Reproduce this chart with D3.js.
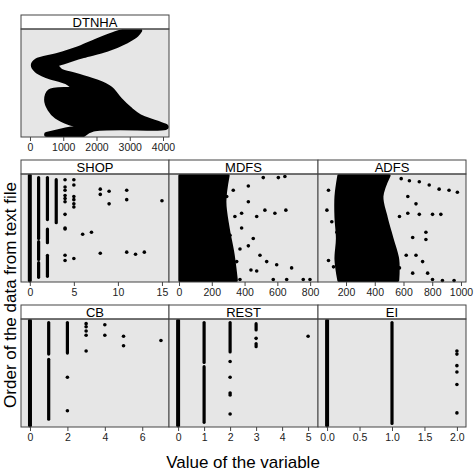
<!DOCTYPE html><html><head><meta charset="utf-8"><script src="https://cdn.jsdelivr.net/npm/d3@7"></script>
<style>body{margin:0;background:#fff}</style></head><body><svg id="c" width="474" height="474"></svg>
<script>
// order = position in file, 0 (top) .. 100 (bottom), in percent of records
const dtnhaEdge = [ // [order, left, right]
 [0,2900,3300],[4,2500,3200],[10,2000,2900],[18,1400,2300],[24,800,1600],[29,200,1100],[33,100,800],[38,200,900],[43,500,1400],[49,1100,2000],[55,1300,2400],[58,600,2500],[66,500,2700],[75,600,3000],[82,800,3300],[88,1200,3800],[92,1700,4100],[94,1200,1900],[99,500,1600]];
const mdfsCore = [[0,5,300],[25,5,280],[50,5,300],[75,5,330],[100,5,350]];
const mdfsPts = [[423,10],[514,2],[606,2],[646,1],[423,25],[382,36],[474,39],[524,33],[585,36],[652,33],[341,39],[453,60],[423,67],[372,70],[494,76],[535,82],[596,85],[687,88],[352,82],[439,90],[474,91],[575,99],[657,99],[758,99],[799,99],[372,99],[311,57],[291,20],[331,14],[382,50]];
const adfsCore = [[0,150,500],[20,130,450],[40,130,480],[60,140,520],[80,130,560],[100,150,560]];
const adfsPts = [[78,14],[67,33],[101,44],[136,54],[78,81],[113,87],[584,3],[641,5],[710,6],[779,9],[848,13],[917,14],[975,16],[572,39],[630,36],[710,37],[802,37],[860,37],[664,59],[756,54],[756,61],[619,76],[687,76],[733,82],[572,88],[664,93],[768,93],[802,99],[871,100],[952,100],[630,20],[687,27]];
// runs: [value, fromOrder, toOrder]; pts: [value, order]
const shopRuns = [[0,0,100],[1,2,60],[1,63,80],[1,83,97],[2,2,42],[2,51,64],[2,76,96],[3,4,45]];
const shopPts = [[4,4],[4,11],[4,14],[4,19],[4,22],[4,25],[4,37],[4,50],[4,51],[4,76],[4,81],[5,4],[5,9],[5,20],[5,23],[5,27],[5,30],[5,79],[6,56],[7,54],[8,13],[8,18],[8,74],[9,15],[9,27],[11,14],[11,23],[11,73],[12,75],[13,73],[15,24]];
const cbRuns = [[0,0,100],[1,2,32],[1,37,94],[2,2,31]];
const cbPts = [[2,54],[2,86],[3,3],[3,6],[3,10],[3,14],[3,29],[4,4],[4,14],[5,15],[5,24],[7,19]];
const restRuns = [[0,0,100],[1,2,40],[1,44,97],[2,2,30],[3,3,9],[3,22,25]];
const restPts = [[2,39],[2,54],[2,69],[2,71],[2,89],[3,17],[5,15]];
const eiRuns = [[0,0,100],[1,2,98]];
const eiPts = [[2,29],[2,32],[2,43],[2,49],[2,61],[2,88]];
const panels = [
 {name:"DTNHA",x0:21,x1:169,top:15,dom:[-270,4180],ticks:[0,1000,2000,3000,4000],fmt:d=>d,edge:dtnhaEdge},
 {name:"SHOP",x0:21,x1:169,top:160,dom:[-1.0,15.8],ticks:[0,5,10,15],fmt:d=>d,runs:shopRuns,pts:shopPts},
 {name:"MDFS",x0:169,x1:318,top:160,dom:[-61,848],ticks:[0,200,400,600,800],fmt:d=>d,edge:mdfsCore,pts:mdfsPts},
 {name:"ADFS",x0:318,x1:466,top:160,dom:[5,1035],ticks:[200,400,600,800,1000],fmt:d=>d,edge:adfsCore,pts:adfsPts},
 {name:"CB",x0:21,x1:169,top:305,dom:[-0.48,7.43],ticks:[0,2,4,6],fmt:d=>d,runs:cbRuns,pts:cbPts},
 {name:"REST",x0:169,x1:318,top:305,dom:[-0.35,5.38],ticks:[0,1,2,3,4,5],fmt:d=>d,runs:restRuns,pts:restPts},
 {name:"EI",x0:318,x1:466,top:305,dom:[-0.14,2.14],ticks:[0,0.5,1,1.5,2],fmt:d3.format(".1f"),runs:eiRuns,pts:eiPts}];
const svg=d3.select("#c");
const F="Liberation Sans, Arial, sans-serif";
panels.forEach(p=>{
  const st=p.top, pt=p.top+14, pb=p.top+122;
  const x=d3.scaleLinear().domain(p.dom).range([p.x0,p.x1]);
  const y=d3.scaleLinear().domain([0,100]).range([pt+1.5,pb-1.5]);
  svg.append("rect").attr("x",p.x0).attr("y",pt).attr("width",p.x1-p.x0).attr("height",pb-pt).attr("fill","#e6e6e6");
  const g=svg.append("g");
  if(p.edge){
    g.append("path").datum(p.edge).attr("fill","#000").attr("stroke","#000").attr("stroke-width",p.name==="DTNHA"?5:3).attr("stroke-linejoin","round")
     .attr("d",d3.area().y(d=>y(d[0])).x0(d=>x(d[1])).x1(d=>x(d[2])).curve(d3.curveCatmullRom));
  }
  (p.runs||[]).forEach(r=>g.append("line").attr("x1",x(r[0])).attr("x2",x(r[0])).attr("y1",y(r[1])).attr("y2",y(r[2])).attr("stroke","#000").attr("stroke-width",r[0]===0?4:3.2).attr("stroke-linecap","round"));
  (p.pts||[]).forEach(d=>{
    g.append("circle").attr("cx",x(d[0])).attr("cy",y(d[1])).attr("r",1.8).attr("fill","#000");
  });
  svg.append("rect").attr("x",p.x0).attr("y",st).attr("width",p.x1-p.x0).attr("height",14).attr("fill","#fff").attr("stroke","#444");
  svg.append("rect").attr("x",p.x0).attr("y",pt).attr("width",p.x1-p.x0).attr("height",pb-pt).attr("fill","none").attr("stroke","#444");
  svg.append("text").attr("x",(p.x0+p.x1)/2).attr("y",st+12).attr("text-anchor","middle").attr("font-family",F).attr("font-size",13).text(p.name);
  const ax=svg.append("g").attr("transform",`translate(0,${pb})`).call(d3.axisBottom(x).tickValues(p.ticks).tickFormat(p.fmt).tickSize(4).tickPadding(3));
  ax.select(".domain").remove();
  ax.selectAll("text").attr("font-family",F).attr("font-size",10.5).attr("fill","#222");
  ax.selectAll("line").attr("stroke","#444");
});
svg.append("text").attr("x",243).attr("y",468).attr("text-anchor","middle").attr("font-family",F).attr("font-size",17).text("Value of the variable");
svg.append("text").attr("transform","translate(16,295) rotate(-90)").attr("text-anchor","middle").attr("font-family",F).attr("font-size",17).text("Order of the data from text file");
</script></body></html>
